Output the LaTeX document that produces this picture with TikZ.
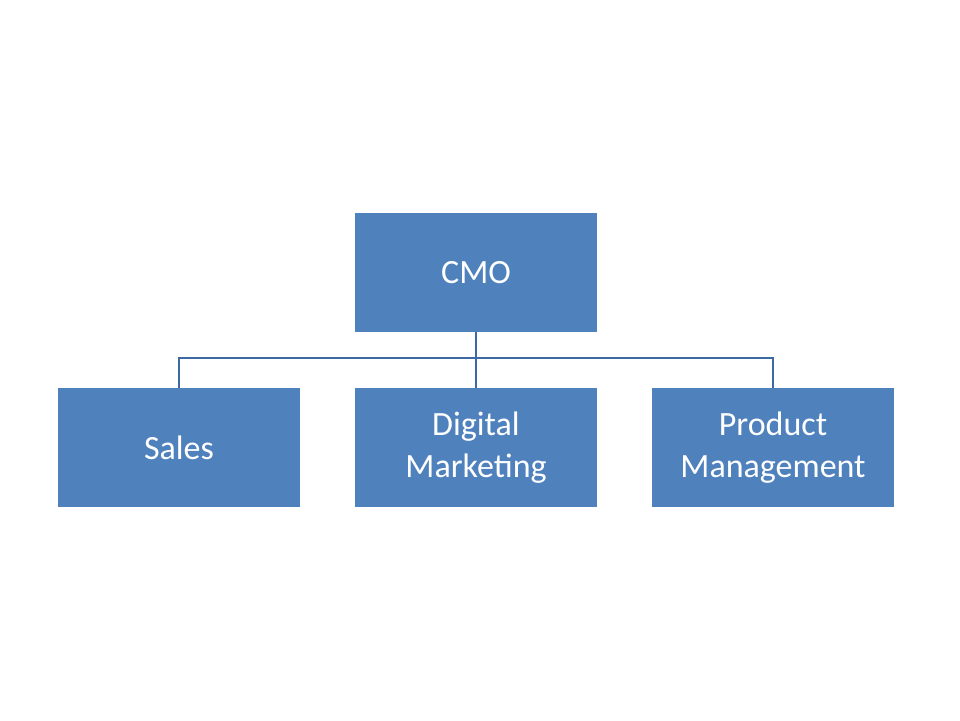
\documentclass[tikz,border=0pt]{standalone}
\usepackage{fontspec}
\setmainfont{Carlito}
\definecolor{boxfill}{HTML}{4F81BD}
\definecolor{linec}{HTML}{3D6AA3}
\begin{document}
\begin{tikzpicture}[x=1pt,y=-1pt,
  box/.style={fill=boxfill,draw=none,minimum width=242pt,minimum height=119pt,text=white,font=\fontsize{34}{42}\selectfont,align=center,inner sep=0pt},
  conn/.style={draw=linec,line width=2pt}]
\useasboundingbox (0,0) rectangle (960,720);
\node[box] (cmo) at (476,272.5) {CMO};
\node[box] (sales) at (179,447.5) {Sales};
\node[box] (dm) at (476,447.5) {Digital\\Marketing};
\node[box] (pm) at (773,447.5) {Product\\Management};
\coordinate (j) at (476,358);
\draw[conn] (cmo.south) -- (j);
\draw[conn] (sales.north) |- (j) -| (pm.north);
\draw[conn] (j) -- (dm.north);
\end{tikzpicture}
\end{document}
